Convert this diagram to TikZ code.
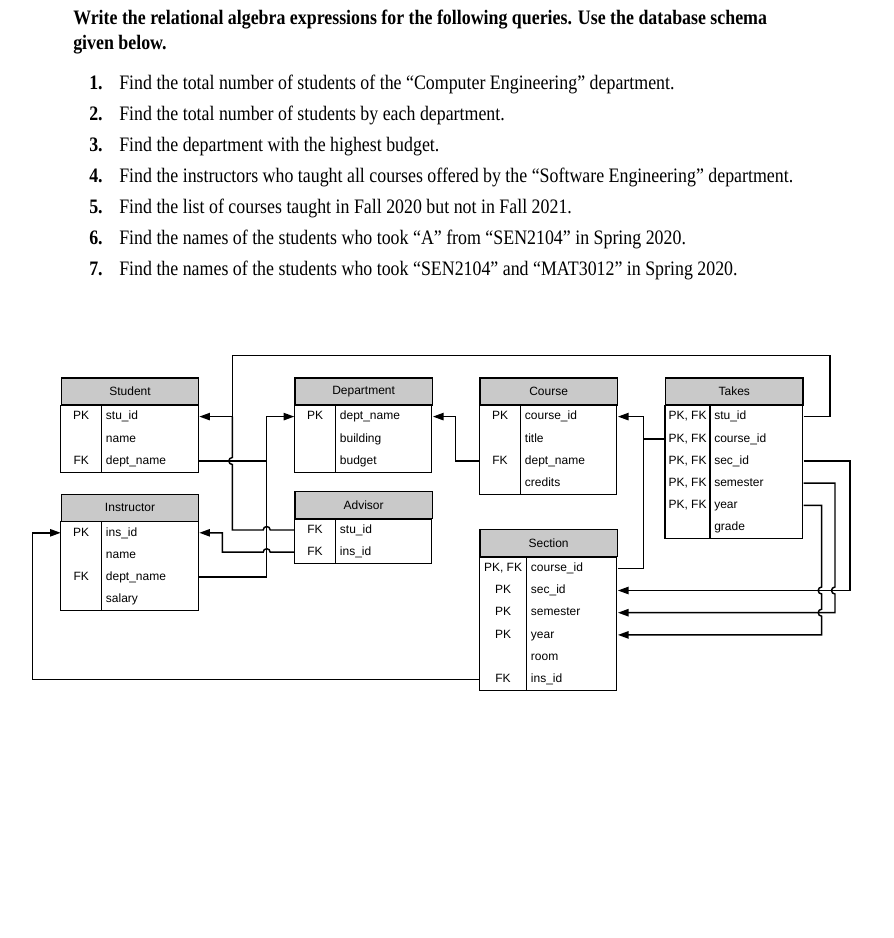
\documentclass[tikz,border=0pt]{standalone}
\usepackage{fontspec}
\usepackage{graphicx}
\setmainfont{Liberation Serif}
\newfontfamily\erdfont{Liberation Sans}
\usetikzlibrary{calc,arrows.meta}
\definecolor{hdrgray}{RGB}{201,201,201}

\tikzset{
	tblhead/.style={draw, fill=hdrgray, line width=0.9pt, minimum width=103.05pt, minimum height=20.25pt, inner sep=0pt, anchor=north west, font=\erdfont\fontsize{9}{11}\selectfont},
	keycell/.style={inner sep=0pt, text height=6.6pt, text depth=1.8pt, font=\erdfont\fontsize{9}{11}\selectfont},
	fieldcell/.style={keycell, anchor=west},
	fkline/.style={line width=1.1pt},
	fkarrow/.style={fkline, -{Triangle[length=8pt,width=5.5pt]}},
	qtitle/.style={anchor=base west, inner sep=0pt, font=\bfseries\fontsize{13.4}{15}\selectfont},
	qnum/.style={anchor=base west, inner sep=0pt, font=\bfseries\fontsize{13.4}{15}\selectfont},
	qline/.style={anchor=base west, inner sep=0pt, font=\fontsize{13.4}{15}\selectfont}
}

% #1 name, #2 title, #3 x, #4 y, #5 key column width, #6 rows, #7 key/field/id
\newcommand\erdtable[7]{%
	\node[tblhead] (#1) at (#3,#4) {#2};
	\draw[line width=0.9pt] (#1.south west) rectangle ++(137.4,#6*22.2);
	\draw[line width=0.9pt] ($(#1.south west)+(#5,0)$) -- ++(0,#6*22.2);
	\foreach \k/\f/\id [count=\i] in {#7} {
		\node[keycell] (#1-\id-key) at ($(#1.south west)+(#5/2,\i*22.2-11.1)$) {\k};
		\node[fieldcell] (#1-\id) at ($(#1.south west)+(#5+4,\i*22.2-11.1)$) {\f};
	}
}

\begin{document}
\begin{tikzpicture}[x=0.75pt,y=0.75pt,yscale=-1,xscale=1]
	\path[use as bounding box, fill=white] (0,0) rectangle (893,938);

	\node[qtitle] (title1) at (73,25) {\scalebox{1}[1.15]{Write the relational algebra expressions for the following queries. Use the database schema}};
	\node[qtitle] (title2) at (73,49.3) {\scalebox{1}[1.15]{given below.}};
	\foreach \n/\y/\q in {
		1/90/{Find the total number of students of the “Computer Engineering” department.},
		2/120.8/{Find the total number of students by each department.},
		3/151.7/{Find the department with the highest budget.},
		4/182.6/{Find the instructors who taught all courses offered by the “Software Engineering” department.},
		5/213.4/{Find the list of courses taught in Fall 2020 but not in Fall 2021.},
		6/244.2/{Find the names of the students who took “A” from “SEN2104” in Spring 2020.},
		7/275/{Find the names of the students who took “SEN2104” and “MAT3012” in Spring 2020.}} {
		\node[qnum] (qnum-\n) at (89,\y) {\scalebox{1}[1.15]{\n.}};
		\node[qline] (q-\n) at (119,\y) {\scalebox{1}[1.15]{\q}};
	}

	\erdtable{student}{Student}{60.7}{377.3}{41}{3}{PK/stu\_id/stuid, /name/name, FK/dept\_name/deptname}
	\erdtable{department}{Department}{294.3}{377.3}{41.4}{3}{PK/dept\_name/deptname, /building/building, /budget/budget}
	\erdtable{course}{Course}{479.3}{377.3}{41.4}{4}{PK/course\_id/courseid, /title/title, FK/dept\_name/deptname, /credits/credits}
	\erdtable{takes}{Takes}{665}{377.3}{45}{6}{{PK, FK}/stu\_id/stuid, {PK, FK}/course\_id/courseid, {PK, FK}/sec\_id/secid, {PK, FK}/semester/semester, {PK, FK}/year/year, /grade/grade}
	\erdtable{instructor}{Instructor}{60.7}{493.5}{41}{4}{PK/ins\_id/insid, /name/name, FK/dept\_name/deptname, /salary/salary}
	\erdtable{advisor}{Advisor}{294.3}{490.7}{41.4}{2}{FK/stu\_id/stuid, FK/ins\_id/insid}
	\erdtable{section}{Section}{479.3}{529}{47.4}{6}{{PK, FK}/course\_id/courseid, PK/sec\_id/secid, PK/semester/semester, PK/year/year, /room/room, FK/ins\_id/insid}

	\coordinate (topR) at (830,355.7);
	\coordinate (topL) at (232.3,355.7);
	\coordinate (deptbus) at (266.7,0);
	\coordinate (insbus) at (222.3,0);
	\coordinate (crsbus) at (455.7,0);
	\coordinate (cidbus) at (643.3,0);
	\coordinate (secbus) at (850,0);
	\coordinate (sembus) at (835,0);
	\coordinate (yearbus) at (821.7,0);
	\coordinate (leftbus) at (32.3,0);

	% stu_id
	\draw[fkarrow] (takes-stuid -| takes.east) -- (takes-stuid -| topR) -- (topR) -- (topL) -- (topL |- student-stuid) -- (student-stuid -| student.east);
	\draw[fkline] (advisor-stuid -| advisor.west) -- ($(advisor-stuid -| deptbus)+(3.5,0)$) arc[start angle=0, end angle=-180, radius=3.5] -- (advisor-stuid -| topL) -- ($(topL |- student-deptname)+(0,3.5)$) arc[start angle=90, end angle=270, radius=3.5] -- (topL |- student-stuid);
	% dept_name
	\draw[fkarrow] (instructor-deptname -| instructor.east) -- (instructor-deptname -| deptbus) -- (deptbus |- department-deptname) -- (department-deptname -| department.west);
	\draw[fkline] (student-deptname -| student.east) -- (student-deptname -| deptbus);
	\draw[fkarrow] (course-deptname -| course.west) -- (course-deptname -| crsbus) -- (crsbus |- department-deptname) -- (department-deptname -| department.east);
	% ins_id
	\draw[fkarrow] (advisor-insid -| advisor.west) -- ($(advisor-insid -| deptbus)+(3.5,0)$) arc[start angle=0, end angle=-180, radius=3.5] -- (advisor-insid -| insbus) -- (insbus |- instructor-insid) -- (instructor-insid -| instructor.east);
	\draw[fkarrow] (section-insid -| section.west) -- (section-insid -| leftbus) -- (leftbus |- instructor-insid) -- (instructor-insid -| instructor.west);
	% course_id
	\draw[fkarrow] (section-courseid -| section.east) -- (section-courseid -| cidbus) -- (cidbus |- course-courseid) -- (course-courseid -| course.east);
	\draw[fkline] (takes-courseid -| takes.west) -- (takes-courseid -| cidbus);
	% sec_id, semester, year
	\draw[fkarrow] (takes-secid -| takes.east) -- (takes-secid -| secbus) -- (secbus |- section-secid) -- (section-secid -| section.east);
	\draw[fkarrow] (takes-semester -| takes.east) -- (takes-semester -| sembus) -- ($(sembus |- section-secid)+(0,-3.5)$) arc[start angle=270, end angle=90, radius=3.5] -- (sembus |- section-semester) -- (section-semester -| section.east);
	\draw[fkarrow] (takes-year -| takes.east) -- (takes-year -| yearbus) -- ($(yearbus |- section-secid)+(0,-3.5)$) arc[start angle=270, end angle=90, radius=3.5] -- ($(yearbus |- section-semester)+(0,-3.5)$) arc[start angle=270, end angle=90, radius=3.5] -- (yearbus |- section-year) -- (section-year -| section.east);
\end{tikzpicture}
\end{document}
